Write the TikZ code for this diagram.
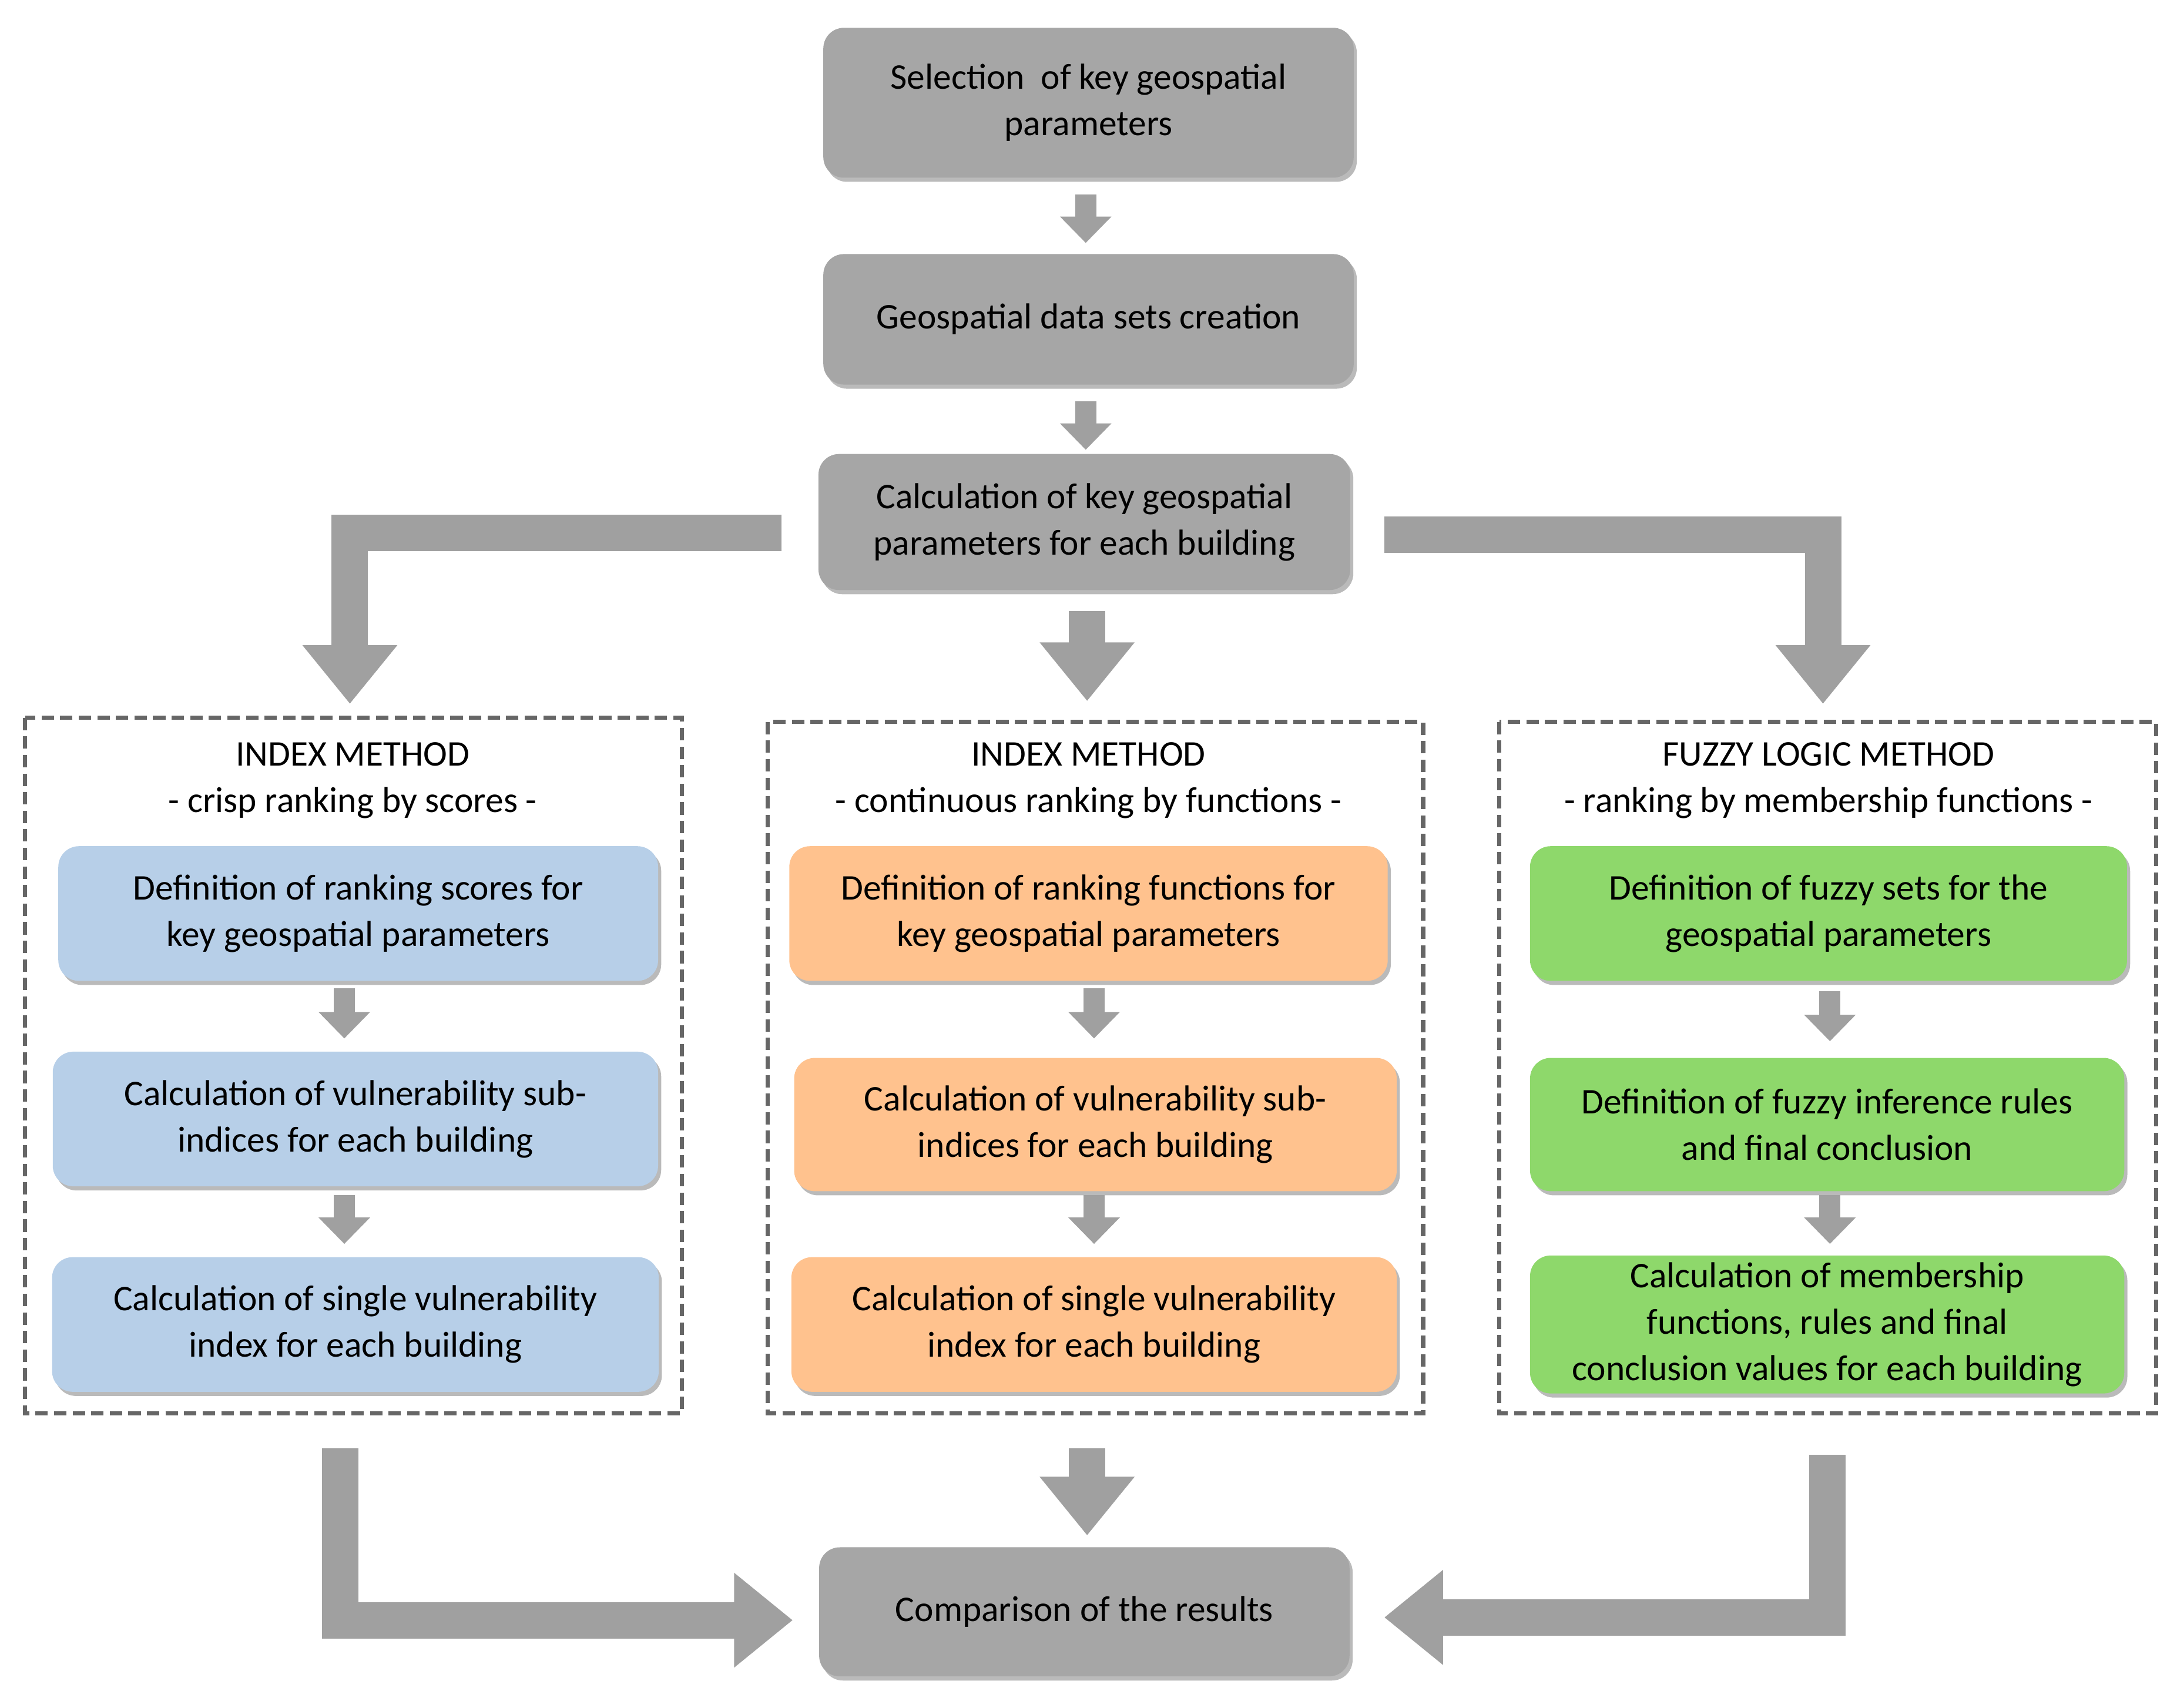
\documentclass[tikz,border=0pt]{standalone}
\usepackage{fontspec}
\setmainfont{Carlito}
\usetikzlibrary{arrows.meta,shadows}
\definecolor{gbox}{HTML}{A6A6A6}
\definecolor{bbox}{HTML}{B7CFE8}
\definecolor{obox}{HTML}{FFC28E}
\definecolor{grbox}{HTML}{8ED86B}
\definecolor{arr}{HTML}{A0A0A0}
\begin{document}
\begin{tikzpicture}[x=0.02363cm,y=-0.02363cm,
 box/.style={rounded corners=10pt,draw=none,align=center,font=\fontsize{17.5}{22.5}\selectfont,
   drop shadow={shadow xshift=1.5pt,shadow yshift=-2pt,fill=black!45,opacity=.6}},
 sarr/.style={arr,line width=0.36cm,-{Triangle[width=0.85cm,length=0.45cm]}},
 barr/.style={arr,line width=0.62cm,line join=miter,-{Triangle[width=1.55cm,length=1.0cm]}},
 dbox/.style={draw=black!60,line width=2pt,dash pattern=on 6pt off 3pt},
 ttl/.style={align=center,font=\fontsize{17.5}{22.5}\selectfont}]
\useasboundingbox (0,0) rectangle (1568,1230);
\newcommand\bx[6]{\node[box,fill=#5,minimum width=#3*0.02363cm,minimum height=#4*0.02363cm] (#1) at #2 {#6};}
\bx{b1}{(784,74)}{382}{108}{gbox}{Selection\ \ of key geospatial\\parameters}
\bx{b2}{(784,230)}{382}{94}{gbox}{Geospatial data sets creation}
\bx{b3}{(781,376)}{383}{98}{gbox}{Calculation of key geospatial\\parameters for each building}
\bx{bc}{(781,1161)}{382}{93}{gbox}{Comparison of the results}
\draw[dbox] (18,517) rectangle (491,1018);
\draw[dbox] (553,520) rectangle (1025,1018);
\draw[dbox] (1080,520) rectangle (1553,1018);
\node[ttl] (t1) at (254,562) {INDEX METHOD\\- crisp ranking by scores -};
\node[ttl] (t2) at (784,562) {INDEX METHOD\\- continuous ranking by functions -};
\node[ttl] (t3) at (1317,562) {FUZZY LOGIC METHOD\\- ranking by membership functions -};
\bx{l1}{(258,658)}{432}{97}{bbox}{Definition of ranking scores for\\key geospatial parameters}
\bx{l2}{(256,806)}{436}{97}{bbox}{Calculation of vulnerability sub-\\indices for each building}
\bx{l3}{(256,954)}{437}{97}{bbox}{Calculation of single vulnerability\\index for each building}
\bx{m1}{(784,658)}{431}{97}{obox}{Definition of ranking functions for\\key geospatial parameters}
\bx{m2}{(789,810)}{434}{96}{obox}{Calculation of vulnerability sub-\\indices for each building}
\bx{m3}{(788,954)}{436}{97}{obox}{Calculation of single vulnerability\\index for each building}
\bx{r1}{(1317,658)}{430}{97}{grbox}{Definition of fuzzy sets for the\\geospatial parameters}
\bx{r2}{(1316,810)}{428}{96}{grbox}{Definition of fuzzy inference rules\\and final conclusion}
\bx{r3}{(1316,954)}{428}{97}{grbox}{Calculation of membership\\functions, rules and final\\conclusion values for each building}
% small arrows
\draw[sarr] (782,140) -- (782,175);
\draw[sarr] (782,289) -- (782,324);
\draw[sarr] (248,712) -- (248,748);
\draw[sarr] (248,861) -- (248,896);
\draw[sarr] (788,712) -- (788,748);
\draw[sarr] (788,861) -- (788,896);
\draw[sarr] (1318,714) -- (1318,750);
\draw[sarr] (1318,861) -- (1318,896);
% big arrows
\coordinate (a1) at (563,384); \coordinate (a2) at (252,384); \coordinate (a3) at (252,507);
\draw[barr] (a1) -- (a2) -- (a3);
\coordinate (c1) at (997,385); \coordinate (c2) at (1313,385); \coordinate (c3) at (1313,507);
\draw[barr] (c1) -- (c2) -- (c3);
\coordinate (d1) at (783,440); \coordinate (d2) at (783,505);
\draw[barr] (d1) -- (d2);
\coordinate (e1) at (245,1043); \coordinate (e2) at (245,1167); \coordinate (e3) at (571,1167);
\draw[barr] (e1) -- (e2) -- (e3);
\coordinate (f1) at (1316,1048); \coordinate (f2) at (1316,1165); \coordinate (f3) at (997,1165);
\draw[barr] (f1) -- (f2) -- (f3);
\coordinate (g1) at (783,1043); \coordinate (g2) at (783,1106);
\draw[barr] (g1) -- (g2);
\end{tikzpicture}
\end{document}
